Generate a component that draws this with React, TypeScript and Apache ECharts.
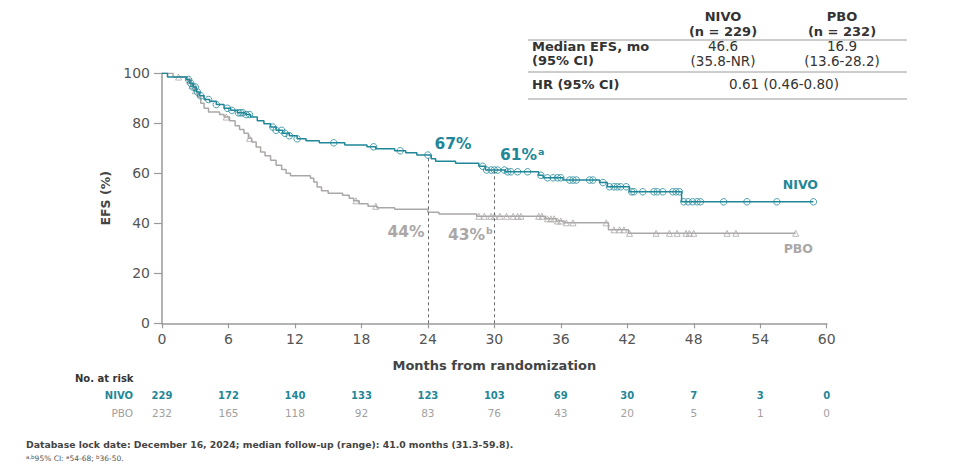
import React, { useEffect, useRef } from "react";
import * as echarts from "echarts";

const TEAL = "#1f8798";
const GRAY = "#aca7a7";
const FONT = "'DejaVu Sans', Verdana, sans-serif";

// Kaplan-Meier step data (month of drop, EFS % after drop)
const nivoTimes = [0, 0.5, 2.2, 2.5, 2.8, 3.1, 3.4, 3.8, 4.3, 4.9, 5.6, 6.2, 6.8, 7.5, 8.0, 8.6, 9.2, 9.8, 10.3, 10.9, 11.5, 12.2, 13.0, 14.2, 16.5, 18.5, 19.3, 21.0, 22.0, 23.0, 24.3, 24.7, 26.5, 28.6, 29.2, 31.0, 34.0, 34.4, 36.2, 39.5, 40.2, 42.2, 46.9];
const nivoSurv = [100, 98.5, 97.5, 96, 94.5, 92.5, 91, 89.5, 88.8, 87.5, 86, 85.2, 84.2, 83.5, 82.5, 81, 79.8, 78.5, 77.2, 76, 75, 73.8, 73, 72.2, 71.3, 70.6, 69.8, 69, 68.2, 67.3, 65.8, 64.8, 64, 62.8, 61.3, 60.6, 59.2, 58.2, 57.3, 56.3, 54.6, 52.6, 48.6];
const nivoEnd = 58.8;
const nivoCensor = [2.4, 2.6, 2.8, 3.0, 3.2, 3.5, 4.2, 4.9, 5.9, 6.3, 6.9, 7.1, 7.3, 7.6, 7.9, 10.0, 10.3, 10.8, 11.1, 11.5, 12.2, 15.5, 19.1, 21.5, 24.0, 28.95, 29.3, 29.7, 30.0, 30.3, 30.9, 31.2, 31.5, 32.1, 33.0, 34.2, 34.8, 35.3, 35.7, 36.0, 36.8, 37.1, 37.4, 38.6, 38.9, 39.8, 40.4, 40.8, 41.1, 41.4, 41.9, 42.4, 42.6, 43.4, 44.4, 44.7, 45.2, 46.1, 46.4, 46.7, 47.1, 47.5, 47.9, 48.3, 48.6, 50.7, 52.8, 55.5, 58.8];

const pboTimes = [0, 1.0, 2.3, 2.6, 2.9, 3.2, 3.5, 3.8, 4.2, 5.2, 5.6, 6.1, 6.6, 7.0, 7.4, 7.8, 8.1, 8.5, 8.9, 9.3, 9.8, 10.3, 10.8, 11.2, 11.6, 13.4, 13.7, 14.0, 14.4, 15.0, 16.3, 16.9, 17.3, 17.8, 18.6, 19.4, 21.0, 24.0, 25.0, 28.4, 34.6, 35.6, 36.3, 40.3, 42.1];
const pboSurv = [100, 98.5, 97, 95, 93, 90.5, 88, 86, 84.5, 83.5, 82.5, 81, 79, 77.5, 76, 74, 72.5, 70.5, 68.5, 67, 65.2, 63.2, 61.5, 60, 59, 58, 56.5, 54.5, 53, 52, 51.2, 50, 49, 47.8, 46.8, 46.2, 45.6, 44.4, 43.7, 42.8, 41.8, 40.9, 40.2, 37.4, 36.0];
const pboEnd = 57.2;
const pboCensor = [1.5, 2.5, 2.7, 3.0, 5.8, 7.9, 17.5, 19.3, 28.6, 29.1, 29.7, 30.0, 30.5, 31.1, 31.7, 32.1, 32.4, 34.0, 34.3, 34.8, 35.1, 35.4, 35.7, 36.0, 36.5, 37.1, 40.1, 40.8, 41.3, 41.7, 42.2, 44.6, 45.8, 46.5, 47.3, 47.6, 48.0, 51.0, 51.8, 57.2];

const xTicks = [0, 6, 12, 18, 24, 30, 36, 42, 48, 54, 60];
const nivoAtRisk = [229, 172, 140, 133, 123, 103, 69, 30, 7, 3, 0];
const pboAtRisk = [232, 165, 118, 92, 83, 76, 43, 20, 5, 1, 0];

const landmarkMonths = [24, 30];
const nivoLandmarks = ["67%", "61%"];
const pboLandmarks = ["44%", "43%"];

const tableHeads = ["NIVO", "PBO"];
const tableN = ["(n = 229)", "(n = 232)"];
const tableMedian = ["46.6", "16.9"];
const tableCI = ["(35.8-NR)", "(13.6-28.2)"];
const tableHR = "0.61 (0.46-0.80)";

function survAt(times: number[], surv: number[], t: number) {
  let v = surv[0];
  for (let i = 0; i < times.length; i++) if (times[i] <= t) v = surv[i];
  return v;
}

function T(x: number, y: number, text: string, o: any = {}) {
  const align = o.align ?? "left";
  return {
    type: "text",
    x,
    y,
    silent: true,
    style: {
      text,
      fontFamily: FONT,
      fontSize: o.size ?? 13,
      fontWeight: o.weight ?? "normal",
      fill: o.color ?? "#333",
      align,
      textAlign: align,
      verticalAlign: "middle",
      textVerticalAlign: "middle",
    },
  };
}

function HL(x1: number, x2: number, y: number) {
  return {
    type: "line",
    silent: true,
    shape: { x1, y1: y, x2, y2: y },
    style: { stroke: "#9a9a9a", lineWidth: 1 },
  };
}

export default function App() {
  const ref = useRef<HTMLDivElement>(null);
  useEffect(() => {
    const chart = echarts.init(ref.current!, null, { renderer: "svg" });
    const nivoLine = nivoTimes.map((t, i) => [t, nivoSurv[i]]).concat([[nivoEnd, nivoSurv[nivoSurv.length - 1]]]);
    const pboLine = pboTimes.map((t, i) => [t, pboSurv[i]]).concat([[pboEnd, pboSurv[pboSurv.length - 1]]]);
    const nivoC = nivoCensor.map((t) => [t, survAt(nivoTimes, nivoSurv, t)]);
    const pboC = pboCensor.map((t) => [t, survAt(pboTimes, pboSurv, t)]);

    chart.setOption({
      animation: false,
      grid: { left: 162, right: 133.3, top: 73.3, bottom: 141.7 },
      xAxis: {
        type: "value",
        min: 0,
        max: 60,
        interval: 6,
        name: "Months from randomization",
        nameLocation: "middle",
        nameGap: 36,
        nameTextStyle: { fontFamily: FONT, fontSize: 13, fontWeight: "bold", color: "#444" },
        axisLine: { lineStyle: { color: "#9a9a9a", width: 1.5 } },
        axisTick: { length: 5, lineStyle: { color: "#9a9a9a", width: 1.2 } },
        axisLabel: { fontFamily: FONT, fontSize: 14, color: "#555", margin: 9 },
        splitLine: { show: false },
      },
      yAxis: {
        type: "value",
        min: 0,
        max: 100,
        interval: 20,
        name: "EFS (%)",
        nameLocation: "middle",
        nameGap: 47,
        nameRotate: 90,
        nameTextStyle: { fontFamily: FONT, fontSize: 12.5, fontWeight: "bold", color: "#444" },
        axisLine: { show: true, lineStyle: { color: "#9a9a9a", width: 1.5 } },
        axisTick: { show: true, length: 8, lineStyle: { color: "#9a9a9a", width: 1.2 } },
        axisLabel: { fontFamily: FONT, fontSize: 14, color: "#555", margin: 12 },
        splitLine: { show: false },
      },
      series: [
        {
          name: "PBO",
          type: "line",
          step: "end",
          data: pboLine,
          showSymbol: false,
          lineStyle: { color: GRAY, width: 1.5 },
          z: 2,
        },
        {
          name: "PBO censored",
          type: "scatter",
          data: pboC,
          symbol: "triangle",
          symbolSize: 6,
          itemStyle: { color: "rgba(255,255,255,0)", borderColor: GRAY, borderWidth: 1 },
          z: 3,
        },
        {
          name: "NIVO",
          type: "line",
          step: "end",
          data: nivoLine,
          showSymbol: false,
          lineStyle: { color: TEAL, width: 1.5 },
          z: 4,
          markLine: {
            silent: true,
            symbol: ["none", "none"],
            label: { show: false },
            lineStyle: { color: "#6a6a6a", type: [3, 3], width: 1 },
            data: landmarkMonths.map((m) => [
              { coord: [m, 0] },
              { coord: [m, survAt(nivoTimes, nivoSurv, m)] },
            ]),
          },
        },
        {
          name: "NIVO censored",
          type: "scatter",
          data: nivoC,
          symbol: "circle",
          symbolSize: 6.5,
          itemStyle: { color: "rgba(255,255,255,0)", borderColor: TEAL, borderWidth: 1 },
          z: 5,
        },
      ],
    });

    const px = (t: number) => chart.convertToPixel({ xAxisIndex: 0 }, t) as number;

    const els: any[] = [];
    // table
    const colX = [723, 842];
    tableHeads.forEach((h, i) => {
      els.push(T(colX[i], 16, h, { weight: "bold", align: "center" }));
      els.push(T(colX[i], 31.5, tableN[i], { weight: "bold", align: "center" }));
      els.push(T(colX[i], 46, tableMedian[i], { size: 13.5, align: "center" }));
      els.push(T(colX[i], 60.5, tableCI[i], { size: 13.5, align: "center" }));
    });
    els.push(HL(528, 907, 40), HL(528, 907, 72), HL(528, 907, 99));
    els.push(T(532, 46.5, "Median EFS, mo", { weight: "bold" }));
    els.push(T(532, 60.5, "(95% CI)", { weight: "bold" }));
    els.push(T(532, 84, "HR (95% CI)", { weight: "bold" }));
    els.push(T(784, 84, tableHR, { size: 13.5, align: "center" }));

    // landmark annotations
    els.push(T(453, 144, nivoLandmarks[0], { size: 15.5, weight: "bold", color: TEAL, align: "center" }));
    els.push(T(500, 155, nivoLandmarks[1], { size: 15.5, weight: "bold", color: TEAL }));
    els.push(T(538, 151, "a", { size: 9.5, weight: "bold", color: TEAL }));
    els.push(T(406, 231.5, pboLandmarks[0], { size: 15.5, weight: "bold", color: GRAY, align: "center" }));
    els.push(T(448, 234.5, pboLandmarks[1], { size: 15.5, weight: "bold", color: GRAY }));
    els.push(T(486, 230.5, "b", { size: 9.5, weight: "bold", color: GRAY }));
    els.push(T(818, 184, "NIVO", { size: 12.5, weight: "bold", color: TEAL, align: "right" }));
    els.push(T(813, 248, "PBO", { size: 12.5, weight: "bold", color: GRAY, align: "right" }));

    // number at risk
    els.push(T(75, 378, "No. at risk", { size: 10, weight: "bold", color: "#333" }));
    els.push(T(133, 395, "NIVO", { size: 10, weight: "bold", color: TEAL, align: "right" }));
    els.push(T(133, 413, "PBO", { size: 10.5, color: "#a0a0a0", align: "right" }));
    xTicks.forEach((t, i) => {
      els.push(T(px(t), 395, String(nivoAtRisk[i]), { size: 10, weight: "bold", color: TEAL, align: "center" }));
      els.push(T(px(t), 413, String(pboAtRisk[i]), { size: 10.5, color: "#a0a0a0", align: "center" }));
    });

    // footnotes
    els.push(
      T(26, 444, "Database lock date: December 16, 2024; median follow-up (range): 41.0 months (31.3-59.8).", {
        size: 9.3,
        weight: "bold",
        color: "#444",
      })
    );
    els.push({
      type: "text",
      x: 26,
      y: 458,
      silent: true,
      style: {
        text: "{s|a,b}{n|95% CI: }{s|a}{n|54-68; }{s|b}{n|36-50.}",
        fontFamily: FONT,
        fill: "#555",
        align: "left",
        textAlign: "left",
        verticalAlign: "middle",
        textVerticalAlign: "middle",
        rich: {
          s: { fontFamily: FONT, fontSize: 5.5, fill: "#555", verticalAlign: "top" },
          n: { fontFamily: FONT, fontSize: 7.5, fill: "#555" },
        },
      },
    });

    chart.setOption({ graphic: { elements: els } });
    return () => chart.dispose();
  }, []);
  return <div ref={ref} style={{ position: "absolute", left: 0, top: 0, width: 960, height: 465 }} />;
}
